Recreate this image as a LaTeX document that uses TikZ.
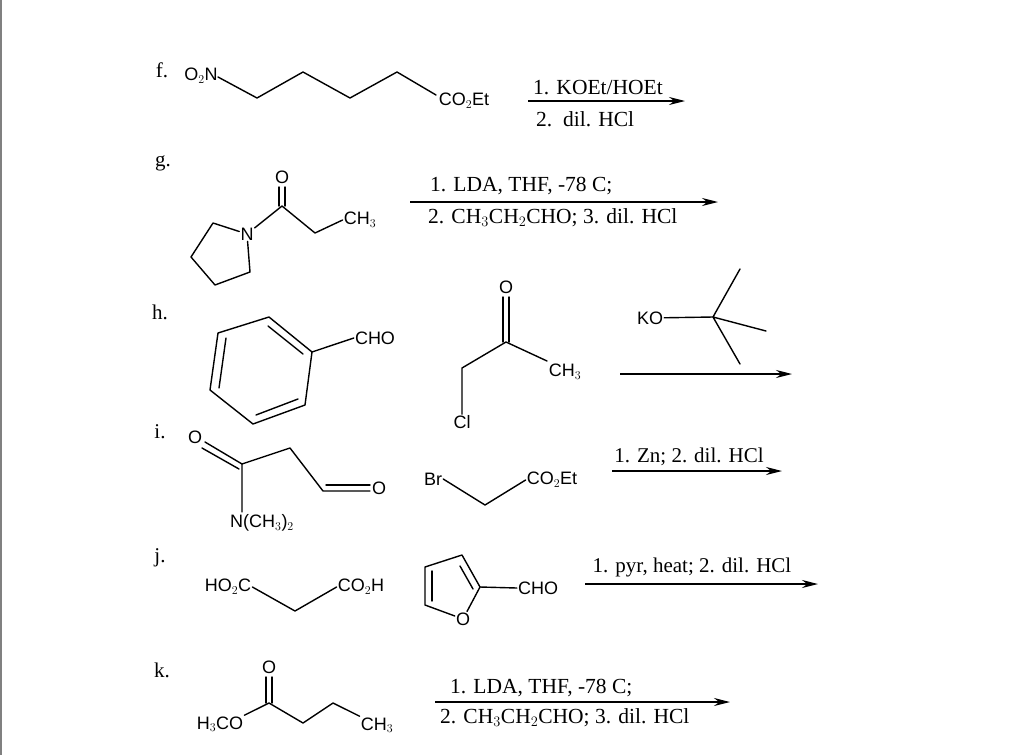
\documentclass[tikz,border=0pt]{standalone}
\usepackage{fontspec}
\setmainfont{Liberation Serif}
\newfontfamily\chemsf{Liberation Sans}
\usetikzlibrary{arrows.meta}
\begin{document}
\begin{tikzpicture}[x=1pt,y=-1pt,
  bond/.style={line width=1.4pt,line cap=round,line join=round},
  atom/.style={font=\chemsf\fontsize{18}{18}\selectfont,inner sep=1pt},
  lbl/.style={font=\fontsize{21}{21}\selectfont,inner sep=0pt},
  reag/.style={font=\fontsize{21.5}{21.5}\selectfont,inner sep=0pt,anchor=west},
  rxn/.style={line width=1.4pt,-{Stealth[length=16pt,width=8pt]}}]
\useasboundingbox (0,0) rectangle (1024,755);
\fill[white] (0,0) rectangle (1024,755);
\draw[gray,line width=2.5pt] (1,0) -- (1,755);
% f
\node[lbl] (lf) at (162,70) {f.};
\node[atom] (o2n) at (201,76) {O$_2$N};
\node[atom] (co2et1) at (464,101) {CO$_2$Et};
\draw[bond] (218,77) -- (257,98) -- (303,72) -- (350,98) -- (397,72) -- (436,95);
\coordinate (fa1) at (528,101); \coordinate (fa2) at (685,101);
\draw[rxn] (fa1) -- (fa2);
\node[reag] at (533,88) {1. KOEt/HOEt};
\node[reag] at (536,119) {2.\ \ dil. HCl};
% g
\node[lbl] (lg) at (163,163) {g.};
\node[atom] (gN) at (247,234) {N};
\node[atom] (gO) at (282,177) {O};
\node[atom] (gch3) at (360,220) {CH$_3$};
\draw[bond] (gN) -- (213,223) -- (191,257) -- (215,285) -- (250,272) -- (gN);
\draw[bond] (gN) -- (282,206) -- (315,233) -- (gch3.west);
\draw[bond] (279,206) -- (279,187) (285,206) -- (285,187);
\draw[rxn] (410,202) -- (718,202);
\node[reag] at (430,186) {1. LDA, THF, -78 C;};
\node[reag] at (428,218) {2. CH$_3$CH$_2$CHO; 3. dil. HCl};
% h
\node[lbl] (lh) at (160,312) {h.};
\draw[bond] (269,317) -- (312,352) -- (305,405) -- (253,424) -- (210,390) -- (218,333) -- cycle;
\draw[bond] (268,326) -- (303,354);
\draw[bond] (298,399) -- (256,415);
\draw[bond] (219,388) -- (226,338);
\node[atom] (hcho) at (375,338) {CHO};
\draw[bond] (312,352) -- (hcho.west);
\node[atom] (hO) at (506,287) {O};
\node[atom] (hCl) at (462,422) {Cl};
\node[atom] (hch3) at (565,372) {CH$_3$};
\draw[bond] (503,297) -- (503,342) (509,297) -- (509,342);
\draw[bond] (hCl) -- (462,368) -- (506,342) -- (547,361);
\node[atom] (ko) at (650,318) {KO};
\draw[bond] (ko) -- (713,317) -- (740,269) (713,317) -- (766,331) (713,317) -- (740,364);
\draw[rxn] (620,374) -- (792,374);
% i
\node[lbl] (li) at (160,432) {i.};
\node[atom] (iO1) at (195,437) {O};
\node[atom] (iO2) at (379,488) {O};
\node[atom] (iN) at (262,523) {N(CH$_3$)$_2$};
\draw[bond] (205,442) -- (242,464) (202,448) -- (239,469);
\draw[bond] (242,512) -- (242,464) -- (290,448) -- (323,491) -- (370,491);
\draw[bond] (326,485) -- (370,485);
\node[atom] (br) at (433,479) {Br};
\node[atom] (co2et2) at (552,480) {CO$_2$Et};
\draw[bond] (br.east) -- (485,505) -- (co2et2.west);
\draw[rxn] (612,471) -- (782,471);
\node[lbl] at (689,457) {1. Zn; 2. dil. HCl};
% j
\node[lbl] (lj) at (160,558) {j.};
\node[atom] (ho2c) at (228,587) {HO$_2$C};
\node[atom] (co2h) at (361,587) {CO$_2$H};
\draw[bond] (ho2c.east) -- (295,611) -- (co2h.west);
\node[atom] (fO) at (463,619) {O};
\draw[bond] (fO) -- (425,605) -- (425,567) -- (462,555) -- (480,587) -- (fO);
\draw[bond] (432,601) -- (432,571);
\draw[bond] (460,566) -- (473,589);
\node[atom] (jcho) at (538,588) {CHO};
\draw[bond] (480,587) -- (jcho.west);
\draw[rxn] (585,584) -- (818,584);
\node[lbl] at (692,567) {1. pyr, heat; 2. dil. HCl};
% k
\node[lbl] (lk) at (162,670) {k.};
\node[atom] (kO) at (269,667) {O};
\node[atom] (kOMe) at (220,724) {H$_3$CO};
\node[atom] (kch3) at (377,725) {CH$_3$};
\draw[bond] (266,677) -- (266,703) (272,677) -- (272,703);
\draw[bond] (kOMe.north east) -- (269,703) -- (303,723) -- (333,703) -- (kch3.north west);
\draw[rxn] (435,702) -- (730,702);
\node[reag] at (450,688) {1. LDA, THF, -78 C;};
\node[reag] at (440,718) {2. CH$_3$CH$_2$CHO; 3. dil. HCl};
\end{tikzpicture}
\end{document}
